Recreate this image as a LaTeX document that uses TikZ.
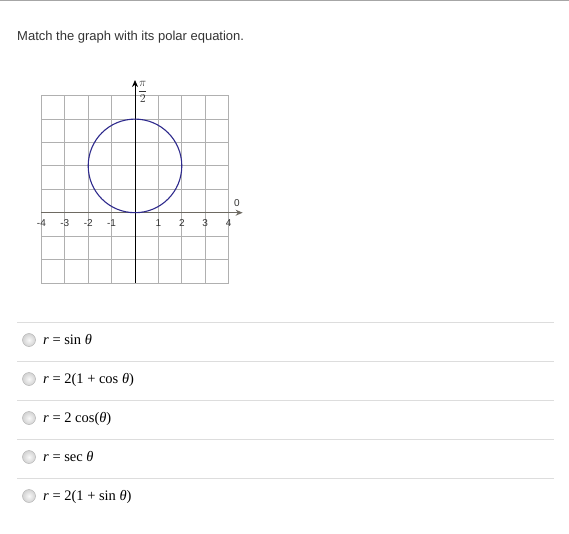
\documentclass[tikz,border=0pt]{standalone}
\usepackage{fontspec}
\setmainfont{Liberation Sans}
\newfontfamily\eqfont{Liberation Serif}
\usetikzlibrary{arrows.meta,positioning}

\definecolor{titletext}{HTML}{333333}
\definecolor{seprule}{HTML}{DDDDDD}
\definecolor{gridline}{HTML}{B0B0B0}
\definecolor{curve}{HTML}{2E2A8C}
\definecolor{xaxis}{HTML}{6E6A62}

\tikzset{
	sep/.style = {seprule, line width=1pt},
	radio/.style = {circle, draw=gray!65, inner sep=0pt, minimum size=13pt,
		shade, inner color=gray!5, outer color=gray!35},
	eq/.style = {anchor=base west, inner sep=0pt, font=\eqfont\fontsize{14.5}{16}\selectfont},
	ticklabel/.style = {inner sep=0pt, text=black!80, font=\fontsize{10}{11}\selectfont}
}

\begin{document}
\begin{tikzpicture}[x=1pt, y=-1pt]
		\useasboundingbox (0,0) rectangle (569,534);
		\draw[gray!70, line width=1.2pt] (0,0.6) -- (569,0.6);
		
		\node[anchor=base west, inner sep=0pt, text=titletext, font=\fontsize{13}{15}\selectfont]
			(title) at (17,41) {Match the graph with its polar equation.};
		
		% graph, one unit = 23.4px
		\begin{scope}[shift={(135,212.7)}, x=23.4pt, y=23.4pt]
			\draw[gridline, line width=0.8pt, step={(1,1)}] (-4,-3) grid (4,5);
			
			\coordinate (xstart) at (-4,0);
			\coordinate (xend) at (4.6,0);
			\coordinate (ystart) at (0,-3);
			\coordinate (yend) at (0,5.67);
			\draw[xaxis, line width=1.5pt, -{Stealth[length=7pt,width=6pt]}] (xstart) -- (xend);
			\draw[black, line width=0.8pt, -{Stealth[length=7pt,width=6pt]}] (ystart) -- (yend);
			
			\draw[curve, line width=1.1pt] (0,2) circle (2);
			
			\foreach \i in {-4,-3,-2,-1,1,2,3,4}
				\node[ticklabel] (tick\i) at (\i,-0.45) {\i};
			\node[ticklabel] (zero) at (4.35,0.4) {0};
			\node[ticklabel, anchor=west, font=\fontsize{13}{14}\selectfont]
				(halfpi) at (0.12,5.17) {$\displaystyle\frac{\pi}{2}$};
		\end{scope}
		
		% answer choices
		\foreach \eqn [count=\k] in {{\textit{r} = sin \textit{θ}},
				{\textit{r} = 2(1 + cos \textit{θ})},
				{\textit{r} = 2 cos(\textit{θ})},
				{\textit{r} = sec \textit{θ}},
				{\textit{r} = 2(1 + sin \textit{θ})}}{
			\draw[sep] (17,283.5+39*\k) -- (554,283.5+39*\k);
			\node[radio] (opt\k) at (29,301+39*\k) {};
			\node[eq] (eq\k) at (43,305.5+39*\k) {\eqn};
		}
		
	\end{tikzpicture}
\end{document}
